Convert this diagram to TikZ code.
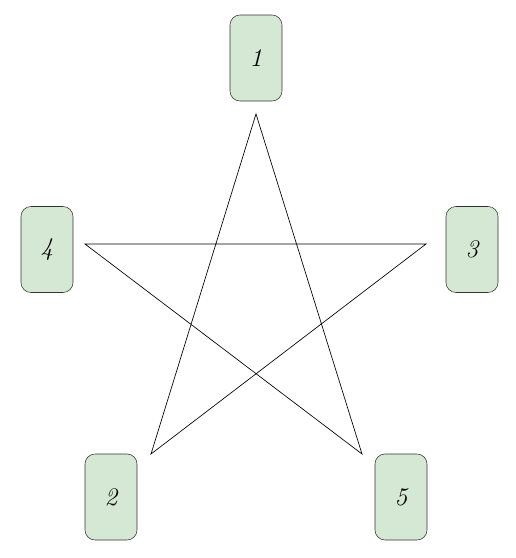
\documentclass[tikz,border=0pt]{standalone}
\usepackage{tikz}
\usetikzlibrary{positioning}
\definecolor{cardGreen}{HTML}{D5E8D4}
\definecolor{cardEdge}{HTML}{333333}

\begin{document}
\begin{tikzpicture}[x=0.75pt,y=-0.75pt,
    card/.style={draw=cardEdge,fill=cardGreen,rounded corners=7.5pt,minimum width=39pt,minimum height=64.5pt,
      inner sep=0pt,font=\fontsize{19}{23}\selectfont\itshape},
    starline/.style={draw=black,line width=0.5pt,line join=miter}]
  \useasboundingbox (0,0) rectangle (516,558);
  % cards
  \foreach \n/\x/\y in {1/256/58,2/111/497,3/472/249.5,4/47/249.5,5/401/497}{
    \node[card] (card\n) at (\x,\y) {\n};}
  % star points
  \coordinate (p1) at (256,114);
  \coordinate (p2) at (151,454);
  \coordinate (p3) at (426,244);
  \coordinate (p4) at (85,244);
  \coordinate (p5) at (362,454);
  \draw[starline] (p1) -- (p2) -- (p3) -- (p4) -- (p5) -- cycle;
\end{tikzpicture}
\end{document}
